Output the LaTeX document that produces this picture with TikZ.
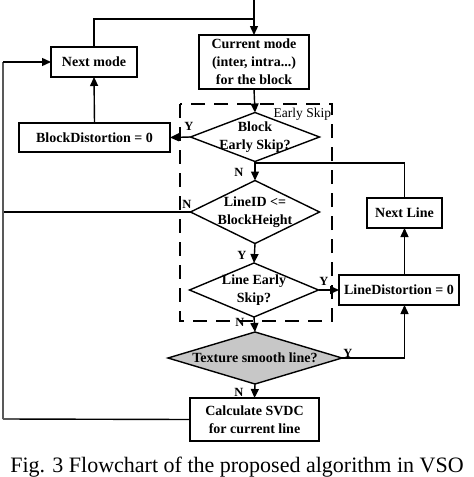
\documentclass[tikz,border=0pt]{standalone}
\usepackage{fontspec}
\setmainfont{Liberation Serif}
\usetikzlibrary{shapes.geometric,arrows.meta}
\begin{document}
\begin{tikzpicture}[x=1pt,y=-1pt,
  every node/.style={inner sep=0pt,outer sep=0pt},
  proc/.style={draw,line width=1.4pt,rectangle,align=center,font=\bfseries\fontsize{14}{18}\selectfont},
  dia/.style={draw,line width=1.4pt,diamond},
  dtext/.style={align=center,font=\bfseries\fontsize{14}{18}\selectfont},
  lab/.style={font=\bfseries\fontsize{12.5}{14}\selectfont},
  conn/.style={line width=1.4pt},
  arr/.style={line width=1.4pt,-{Triangle[length=9pt,width=8pt]}},
]
\useasboundingbox (0,0) rectangle (474,477);
% dashed group
\draw[line width=1.5pt,dash pattern=on 14pt off 9pt] (180,104) rectangle (332,321);
\node[anchor=east,font=\fontsize{13.5}{14}\selectfont] (esl) at (331,114) {Early Skip};
% boxes
\node[proc,minimum width=86pt,minimum height=30pt] (nm) at (94,62) {Next mode};
\node[proc,minimum width=110pt,minimum height=54pt] (cm) at (254,62) {Current mode\\(inter, intra...)\\for the block};
\node[proc,minimum width=151pt,minimum height=29pt] (bd) at (94.5,137.5) {BlockDistortion = 0};
\node[proc,minimum width=75pt,minimum height=30pt] (nl) at (404.5,213) {Next Line};
\node[proc,minimum width=120pt,minimum height=30pt] (ld) at (399,290) {LineDistortion = 0};
\node[proc,minimum width=129pt,minimum height=43pt] (calc) at (254.5,419.5) {Calculate SVDC\\for current line};
% diamonds
\node[dia,minimum width=129pt,minimum height=49pt] (bes) at (255,137) {};
\node[dtext] (best) at (255,137) {Block\\Early Skip?};
\node[dia,minimum width=129pt,minimum height=63pt] (lid) at (255,212) {};
\node[dtext] (lidt) at (255,212) {LineID <=\\BlockHeight};
\node[dia,minimum width=129pt,minimum height=54pt] (les) at (254,290) {};
\node[dtext] (lest) at (254,290) {Line Early\\Skip?};
\node[dia,fill=black!22,minimum width=174pt,minimum height=52pt] (tex) at (255,358) {};
\node[dtext] (text) at (255,358) {Texture smooth line?};
% coordinates
\coordinate (top) at (254,0);
\coordinate (tj) at (254,19);
\coordinate (j1) at (255,163);
\coordinate (lt) at (3,62);
\coordinate (lb) at (3,419);
\coordinate (lm) at (3,212);
\coordinate (ldn) at (404.5,275);
\coordinate (lds) at (404.5,305);
% connectors
\draw[arr] (top) -- (cm.north);
\draw[conn] (nm.north) |- (tj);
\draw[arr] (cm.south) -- (bes.north);
\draw[arr] (bes.west) -- (bd.east);
\draw[arr] (bd.north) -- (nm.south);
\draw[arr] (bes.south) -- (lid.north);
\draw[conn] (nl.north) |- (j1);
\draw[conn] (lid.west) -- (lm);
\draw[conn] (calc.west) -- (lb);
\draw[line width=2.6pt,black!65] (lb) -- (lt);
\draw[arr] (lt) -- (nm.west);
\draw[arr] (lid.south) -- (les.north);
\draw[arr] (les.east) -- (ld.west);
\draw[arr] (les.south) -- (tex.north);
\draw[arr] (ldn) -- (nl.south);
\draw[arr] (tex.east) -| (lds);
\draw[arr] (tex.south) -- (calc.north);
% labels
\node[lab] (ly1) at (189,126) {Y};
\node[lab] (ln1) at (239,172) {N};
\node[lab] (ln2) at (187,204) {N};
\node[lab] (ly2) at (242,255) {Y};
\node[lab] (ly3) at (324,281) {Y};
\node[lab] (ln3) at (240,322) {N};
\node[lab] (ly4) at (348,353) {Y};
\node[lab] (ln4) at (239,392) {N};
% caption
\node[anchor=base,font=\fontsize{22}{26}\selectfont] (cap) at (237,472) {Fig. 3 Flowchart of the proposed algorithm in VSO};
\end{tikzpicture}
\end{document}
